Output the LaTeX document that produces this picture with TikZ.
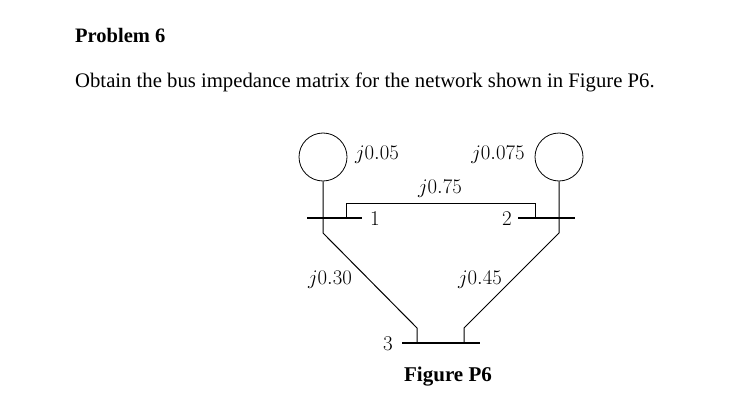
\documentclass[tikz,border=0pt]{standalone}
\usepackage{fontspec}
\newfontfamily\tnr{Liberation Serif}
\begin{document}
\begin{tikzpicture}[x=1pt,y=-1pt,
  ln/.style={line width=1pt},
  bus/.style={line width=1.6pt},
  lbl/.style={font=\fontsize{21}{21}\selectfont, inner sep=0pt},
  gen/.style={circle,draw,line width=0.8pt,minimum size=48pt,inner sep=0pt}]
\useasboundingbox (0,0) rectangle (754,401);
\node[anchor=west,font=\tnr\bfseries\fontsize{20.5}{20.5}\selectfont,inner sep=0pt] (title) at (75,35) {Problem 6};
\node[anchor=west,font=\tnr\fontsize{20.7}{20.7}\selectfont,inner sep=0pt] (q) at (75,82) {Obtain the bus impedance matrix for the network shown in Figure P6.};
\node[gen] (g1) at (323,157) {};
\node[gen] (g2) at (559,157) {};
\coordinate (b1l) at (307,218); \coordinate (b1r) at (362,218);
\coordinate (b2l) at (518,218); \coordinate (b2r) at (575,218);
\coordinate (b3l) at (402,343); \coordinate (b3r) at (480,343);
\draw[bus] (b1l) -- (b1r); \draw[bus] (b2l) -- (b2r); \draw[bus] (b3l) -- (b3r);
\node[lbl] (n1) at (375,219) {1};
\node[lbl] (n2) at (507,219) {2};
\node[lbl] (n3) at (388,344) {3};
\draw[ln] (g1.south) -- (323,233) -- (417,328) -- (417,343);
\draw[ln] (g2.south) -- (559,233) -- (464,328) -- (464,343);
\draw[ln] (346,218) -- (346,203) -- (535,203) -- (535,218);
\node[lbl] (z1) at (377,155) {$j0.05$};
\node[lbl] (z2) at (498,155) {$j0.075$};
\node[lbl] (z12) at (440,189) {$j0.75$};
\node[lbl] (z13) at (330,280) {$j0.30$};
\node[lbl] (z23) at (480,280) {$j0.45$};
\node[font=\tnr\bfseries\fontsize{21}{21}\selectfont,inner sep=0pt] (cap) at (448,377) {Figure P6};
\end{tikzpicture}
\end{document}
